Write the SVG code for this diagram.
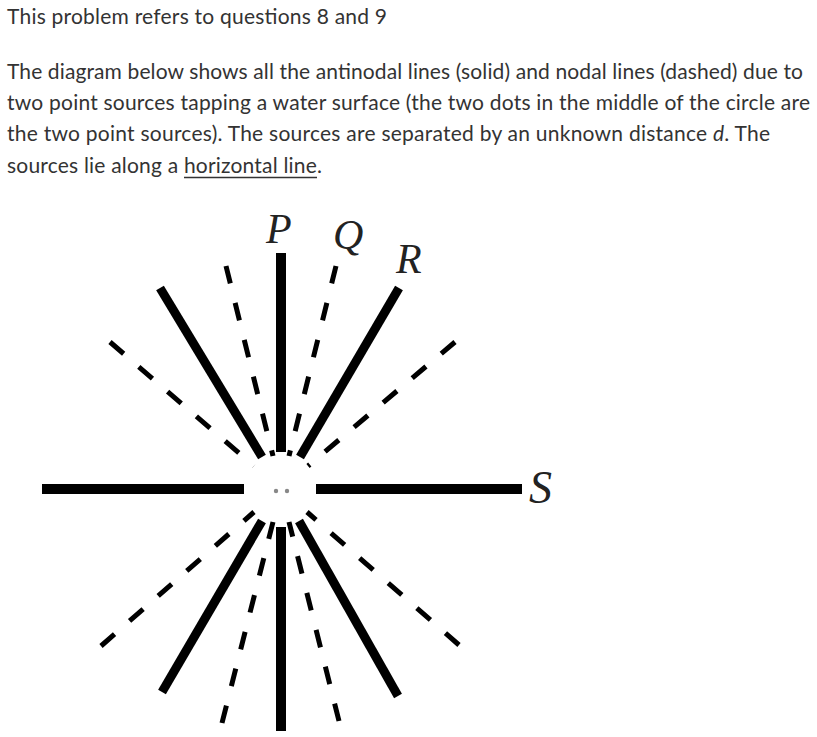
<svg xmlns="http://www.w3.org/2000/svg" width="817" height="737" viewBox="0 0 817 737">
<style>
.t{font-family:Lato,"Noto Sans","Liberation Sans",sans-serif;font-size:21px;fill:#333}
.lab{font-family:"Liberation Serif","DejaVu Serif",serif;font-style:italic;fill:#222}
.solid{stroke:#000;stroke-width:10;fill:none;stroke-linecap:butt}
.diag{stroke:#000;stroke-width:9;fill:none;stroke-linecap:butt}
.dash{stroke:#000;stroke-width:5;fill:none;stroke-dasharray:18 20;stroke-linecap:butt}
</style>
<rect width="817" height="737" fill="#fff"/>
<g id="question-text">
<text class="t" x="7" y="24" textLength="380" lengthAdjust="spacing">This problem refers to questions 8 and 9</text>
<text class="t" x="7" y="79" textLength="796" lengthAdjust="spacing">The diagram below shows all the antinodal lines (solid) and nodal lines (dashed) due to</text>
<text class="t" x="7" y="110" textLength="803" lengthAdjust="spacing">two point sources tapping a water surface (the two dots in the middle of the circle are</text>
<text class="t" x="7" y="141" textLength="763" lengthAdjust="spacing">the two point sources). The sources are separated by an unknown distance <tspan font-style="italic">d</tspan>. The</text>
<text class="t" x="7" y="173" textLength="315" lengthAdjust="spacing">sources lie along a horizontal line.</text>
<line x1="184" y1="177.5" x2="317" y2="177.5" stroke="#333" stroke-width="1.5"/>
</g>
<g id="connectors">
<g id="antinodal-lines">
<line class="solid" x1="281" y1="253" x2="281" y2="452"/>
<line class="solid" x1="281" y1="527" x2="281" y2="731"/>
<line class="solid" x1="42" y1="489" x2="244" y2="489"/>
<line class="solid" x1="316" y1="489" x2="522" y2="489"/>
<line class="diag" x1="160" y1="288" x2="262" y2="457"/>
<line class="diag" x1="399" y1="288" x2="300" y2="457"/>
<line class="diag" x1="162" y1="692" x2="262" y2="521"/>
<line class="diag" x1="398" y1="696" x2="299" y2="521"/>
</g>
<g id="nodal-lines">
<line class="dash" x1="110" y1="342" x2="254" y2="466"/>
<line class="dash" x1="455" y1="342" x2="308" y2="466"/>
<line class="dash" x1="226" y1="266" x2="273" y2="456"/>
<line class="dash" x1="336" y1="266" x2="289" y2="456"/>
<line class="dash" x1="101" y1="646" x2="254" y2="512"/>
<line class="dash" x1="459" y1="645" x2="307" y2="512"/>
<line class="dash" x1="222" y1="723" x2="273" y2="522"/>
<line class="dash" x1="339" y1="721" x2="289" y2="522"/>
</g>
</g>
<g id="sources">
<circle cx="276" cy="491" r="2.2" fill="#888"/>
<circle cx="287" cy="491" r="2.2" fill="#888"/>
</g>
<g id="labels">
<text class="lab" x="266" y="243" font-size="42">P</text>
<text class="lab" x="333" y="249" font-size="42">Q</text>
<text class="lab" x="396" y="273" font-size="42">R</text>
<text class="lab" x="529" y="503" font-size="46">S</text>
</g>
</svg>
